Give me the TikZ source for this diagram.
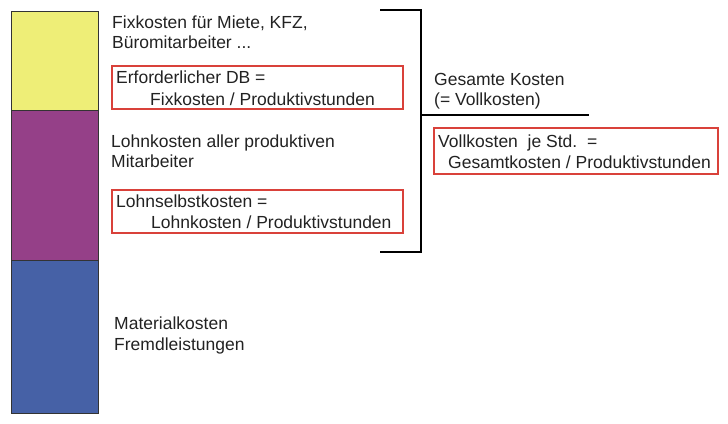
\documentclass[tikz,border=0pt]{standalone}
\usepackage{fontspec}
\setmainfont{Liberation Sans}
\definecolor{barY}{HTML}{EEEE77}
\definecolor{barP}{HTML}{954088}
\definecolor{barB}{HTML}{4661A6}
\definecolor{redbox}{HTML}{D9413A}
\definecolor{txt}{HTML}{222222}
\begin{document}
\begin{tikzpicture}[x=1pt,y=-1pt,
  lbl/.style={anchor=base west,inner sep=0pt,font=\fontsize{17.5}{20}\selectfont,text=txt},
  rbox/.style={draw=redbox,line width=2pt},
  bar/.style={draw=black!80,line width=1pt},
  brk/.style={draw=black,line width=2pt}]
\useasboundingbox (0,0) rectangle (728,423);
% bars
\filldraw[bar,fill=barY] (11,11) rectangle (98,110);
\filldraw[bar,fill=barP] (11,110) rectangle (98,260);
\filldraw[bar,fill=barB] (11,260) rectangle (98,413);
% texts
\node[lbl] (f1) at (112,28) {Fixkosten für Miete, KFZ,};
\node[lbl] (f2) at (112,48) {Büromitarbeiter ...};
\draw[rbox] (112,66) rectangle (403,109);
\node[lbl] (e1) at (116,83) {Erforderlicher DB =};
\node[lbl] (e2) at (150,105) {Fixkosten / Produktivstunden};
\node[lbl] (l1) at (111,147) {Lohnkosten aller produktiven};
\node[lbl] (l2) at (111,167) {Mitarbeiter};
\draw[rbox] (112,190) rectangle (403,233);
\node[lbl] (s1) at (116,207) {Lohnselbstkosten =};
\node[lbl] (s2) at (151,228) {Lohnkosten / Produktivstunden};
\node[lbl] (m1) at (114,329) {Materialkosten};
\node[lbl] (m2) at (114,350) {Fremdleistungen};
% bracket
\coordinate (bt) at (380,10);
\coordinate (bb) at (380,252);
\draw[brk] (bt) -- (421,10) -- (421,252) -- (bb);
\coordinate (hl) at (421,115);
\coordinate (hr) at (589,115);
\draw[brk] (hl) -- (hr);
\node[lbl] (g1) at (434,85) {Gesamte Kosten};
\node[lbl] (g2) at (434,105) {(= Vollkosten)};
\draw[rbox] (434,128) rectangle (718,174);
\node[lbl] (v1) at (438,147) {Vollkosten\ \ je Std.\ \ =};
\node[lbl] (v2) at (448,168) {Gesamtkosten / Produktivstunden};
\end{tikzpicture}
\end{document}
